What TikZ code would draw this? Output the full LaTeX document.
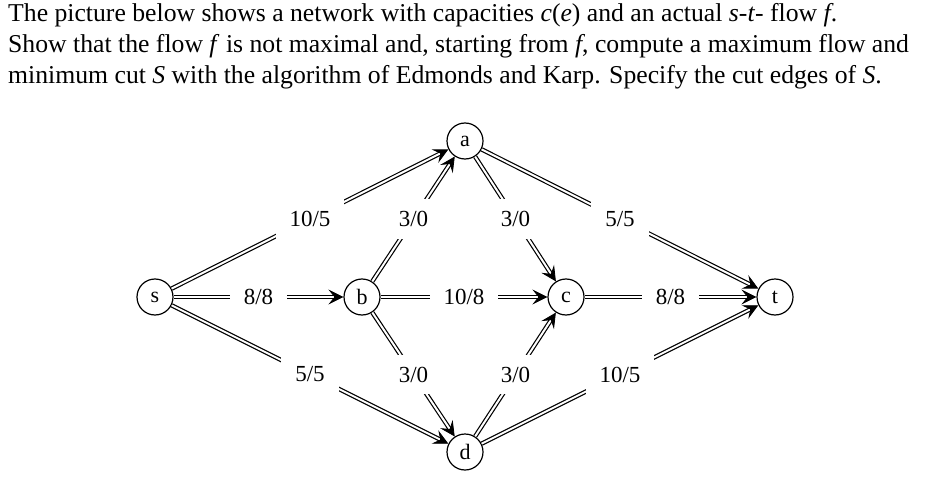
\documentclass[tikz,border=0pt]{standalone}
\usepackage{fontspec}
\setmainfont{Liberation Serif}
\usetikzlibrary{arrows.meta}
\newcommand{\mi}[1]{\textit{#1}}
\begin{document}
\begin{tikzpicture}[x=1pt,y=-1pt,
  vtx/.style={circle,draw,line width=1.2pt,minimum size=36pt,inner sep=0pt,font=\fontsize{22}{22}\selectfont},
  e/.style={double,double distance=2pt,line width=1.2pt,-{Stealth[length=15pt,width=15pt,inset=6pt,fill=black,line width=0.8pt]}},
  lbl/.style={fill=white,inner xsep=14pt,inner ysep=12pt,font=\fontsize{23}{23}\selectfont}]
\useasboundingbox (0,0) rectangle (945,492);
\node[anchor=north west,align=left,font=\fontsize{25.7}{31}\selectfont,inner sep=0pt] (hdr) at (8,3)
 {The picture below shows a network with capacities \mi{c}(\mi{e}) and an actual \mi{s}-\mi{t}- flow \mi{f}.\\
  Show that the flow \mi{f} is not maximal and, starting from \mi{f}, compute a maximum flow and\\
  minimum cut \mi{S} with the algorithm of Edmonds and Karp. Specify the cut edges of \mi{S}.};
\node[vtx] (s) at (155,297) {s};
\node[vtx] (b) at (362,297) {b};
\node[vtx] (c) at (566,297) {c};
\node[vtx] (t) at (775,297) {t};
\node[vtx] (a) at (465,141) {a};
\node[vtx] (d) at (465,452) {d};
\draw[e] (s) -- node[lbl]{10/5} (a);
\draw[e] (a) -- node[lbl]{5/5} (t);
\draw[e] (b) -- node[lbl]{3/0} (a);
\draw[e] (a) -- node[lbl]{3/0} (c);
\draw[e] (s) -- node[lbl]{8/8} (b);
\draw[e] (b) -- node[lbl]{10/8} (c);
\draw[e] (c) -- node[lbl]{8/8} (t);
\draw[e] (s) -- node[lbl]{5/5} (d);
\draw[e] (b) -- node[lbl]{3/0} (d);
\draw[e] (d) -- node[lbl]{3/0} (c);
\draw[e] (d) -- node[lbl]{10/5} (t);
\end{tikzpicture}
\end{document}
